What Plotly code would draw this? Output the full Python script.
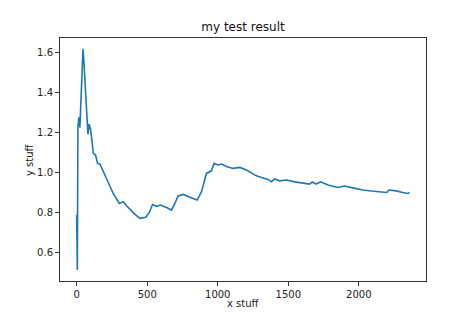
import plotly.graph_objects as go

x_vals = [0, 5, 9, 16, 23, 30, 40, 45, 52, 61, 71, 80, 89, 99, 108, 118, 134, 148, 165, 184,
          207, 224, 259, 302, 330, 354, 380, 405, 448, 470, 490, 514, 538, 566, 594, 637, 672,
          696, 719, 755, 790, 825, 854, 885, 920, 955, 974, 1002, 1026, 1062, 1108, 1156, 1203,
          1250, 1274, 1309, 1356, 1380, 1403, 1439, 1486, 1545, 1604, 1651, 1670, 1698, 1729,
          1781, 1851, 1899, 1958, 2028, 2088, 2158, 2198, 2213, 2265, 2312, 2347, 2359]
y_vals = [0.790, 0.514, 1.229, 1.276, 1.224, 1.378, 1.611, 1.618, 1.545, 1.412, 1.296, 1.192,
          1.242, 1.212, 1.162, 1.096, 1.088, 1.046, 1.043, 1.013, 0.979, 0.946, 0.896, 0.846,
          0.855, 0.835, 0.815, 0.797, 0.772, 0.775, 0.777, 0.800, 0.841, 0.832, 0.838, 0.826,
          0.813, 0.846, 0.884, 0.891, 0.879, 0.871, 0.863, 0.905, 0.996, 1.009, 1.046, 1.038,
          1.043, 1.031, 1.021, 1.026, 1.013, 0.991, 0.984, 0.976, 0.966, 0.954, 0.968, 0.959,
          0.963, 0.954, 0.949, 0.943, 0.953, 0.943, 0.954, 0.938, 0.926, 0.933, 0.924, 0.913,
          0.908, 0.904, 0.901, 0.913, 0.909, 0.901, 0.896, 0.901]

x_ticks = [0, 500, 1000, 1500, 2000]
y_ticks = [0.6, 0.8, 1.0, 1.2, 1.4, 1.6]

title_text = "my test result"
x_label = "x stuff"
y_label = "y stuff"

W, H = 474, 316
L, R, T, B = 60, 48, 38, 35

fig = go.Figure()
fig.add_trace(go.Scatter(x=x_vals, y=y_vals, mode="lines",
                         line=dict(color="#1f77b4", width=1.6), showlegend=False))

axis_common = dict(showline=True, linecolor="#333333", linewidth=1, mirror=True,
                   ticks="outside", ticklen=4, tickcolor="#333333", showgrid=False,
                   zeroline=False, tickfont=dict(size=10, color="#222222"))

fig.update_layout(
    width=W, height=H,
    margin=dict(l=L, r=R, t=T, b=B),
    paper_bgcolor="white", plot_bgcolor="white",
    font=dict(family="DejaVu Sans", color="#222222"),
    title=dict(text=title_text, x=243/W, xanchor="center", y=(H-27)/H,
               yanchor="middle", font=dict(size=12, color="#111111")),
    xaxis=dict(range=[-118, 2476], tickvals=x_ticks, ticktext=[str(v) for v in x_ticks],
               **axis_common),
    yaxis=dict(range=[0.459, 1.672], tickvals=y_ticks, ticktext=[f"{v:.1f}" for v in y_ticks],
               **axis_common),
)

plot_w = W - L - R
plot_h = H - T - B
fig.add_annotation(text=x_label, xref="paper", yref="paper",
                   x=(243 - L) / plot_w, y=-(303 - (H - B)) / plot_h,
                   xanchor="center", yanchor="middle", showarrow=False,
                   font=dict(size=10, color="#222222"))
fig.add_annotation(text=y_label, xref="paper", yref="paper",
                   x=-(L - 29) / plot_w, y=((H - B) - 160) / plot_h,
                   xanchor="center", yanchor="middle", textangle=-90, showarrow=False,
                   font=dict(size=10, color="#222222"))

fig.write_html("out.html")
